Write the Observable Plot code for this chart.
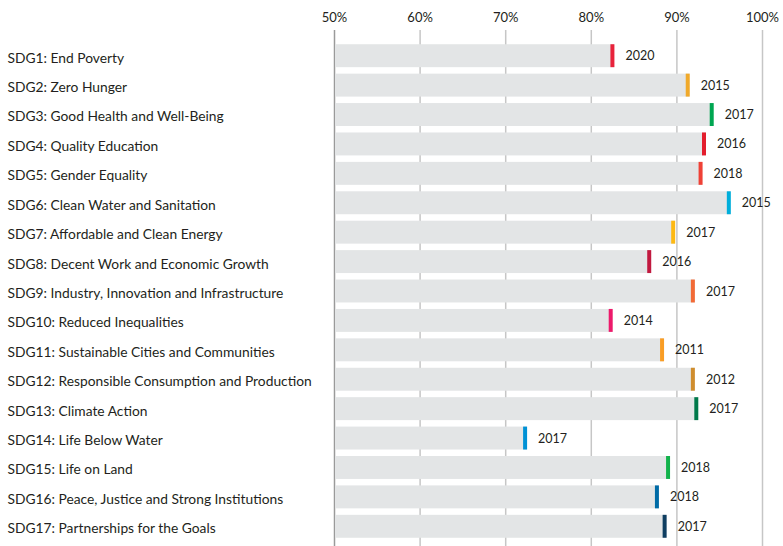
<!DOCTYPE html>
<html>
<head>
<meta charset="utf-8">
<script src="https://cdn.jsdelivr.net/npm/d3@7"></script>
<script src="https://cdn.jsdelivr.net/npm/@observablehq/plot@0.6"></script>
<style>
  html, body { margin: 0; padding: 0; background: #fff; }
  #chart svg { display: block; }
</style>
</head>
<body>
<div id="chart"></div>
<script>
const goals = [
  "SDG1: End Poverty",
  "SDG2: Zero Hunger",
  "SDG3: Good Health and Well-Being",
  "SDG4: Quality Education",
  "SDG5: Gender Equality",
  "SDG6: Clean Water and Sanitation",
  "SDG7: Affordable and Clean Energy",
  "SDG8: Decent Work and Economic Growth",
  "SDG9: Industry, Innovation and Infrastructure",
  "SDG10: Reduced Inequalities",
  "SDG11: Sustainable Cities and Communities",
  "SDG12: Responsible Consumption and Production",
  "SDG13: Climate Action",
  "SDG14: Life Below Water",
  "SDG15: Life on Land",
  "SDG16: Peace, Justice and Strong Institutions",
  "SDG17: Partnerships for the Goals"
];
const values = [0.827, 0.915, 0.943, 0.934, 0.930, 0.963, 0.898, 0.870, 0.921, 0.825, 0.885, 0.921, 0.925, 0.725, 0.892, 0.879, 0.888];
const years = ["2020", "2015", "2017", "2016", "2018", "2015", "2017", "2016", "2017", "2014", "2011", "2012", "2017", "2017", "2018", "2018", "2017"];
const goalColors = ["#e8233b", "#f0a92a", "#00a651", "#e31e2d", "#ef4136", "#00aedb", "#fdb913", "#c1193f", "#f26a36", "#ed1a6b", "#f99d25", "#cf8d2e", "#00794a", "#0091d5", "#12b24b", "#006ba6", "#0f3e61"];
const xTicks = [0.5, 0.6, 0.7, 0.8, 0.9, 1.0];

const rows = goals.map((g, i) => ({goal: g, value: values[i], year: years[i], color: goalColors[i]}));

const font = "Lato, 'Open Sans', sans-serif";
const ink = "#231f20";

const chart = Plot.plot({
  width: 783,
  height: 546,
  marginTop: 30,
  marginLeft: 334,
  marginRight: 21,
  marginBottom: 0,
  style: {fontFamily: font, color: ink, background: "#fff"},
  x: {domain: [0.5, 1.0]},
  y: {domain: goals, axis: null, round: false, paddingInner: 0.22, paddingOuter: 0.11, insetTop: 11, insetBottom: 5},
  color: {type: "identity"},
  marks: [
    Plot.ruleX(xTicks.slice(1), {stroke: "#c6c6c6", strokeWidth: 1.5}),
    Plot.ruleX([0.5], {stroke: "#9a9a9a", strokeWidth: 1.5}),
    Plot.axisX({anchor: "top", ticks: xTicks, tickSize: 0, tickPadding: 9, tickFormat: d3.format(".0%"), label: null, fontSize: 13, fill: ink}),
    Plot.barX(rows, {y: "goal", x1: 0.5, x2: "value", fill: "#e3e5e6", insetLeft: 1}),
    Plot.tickX(rows, {y: "goal", x: "value", stroke: "color", strokeWidth: 4, dx: -2}),
    Plot.text(rows, {y: "goal", x: "value", text: "year", dx: 11, textAnchor: "start", fontSize: 12.5, fill: ink}),
    Plot.text(rows, {y: "goal", text: "goal", frameAnchor: "left", dx: -327, dy: 2, textAnchor: "start", fontSize: 13.8, fill: ink})
  ]
});
document.getElementById("chart").appendChild(chart);
</script>
</body>
</html>
